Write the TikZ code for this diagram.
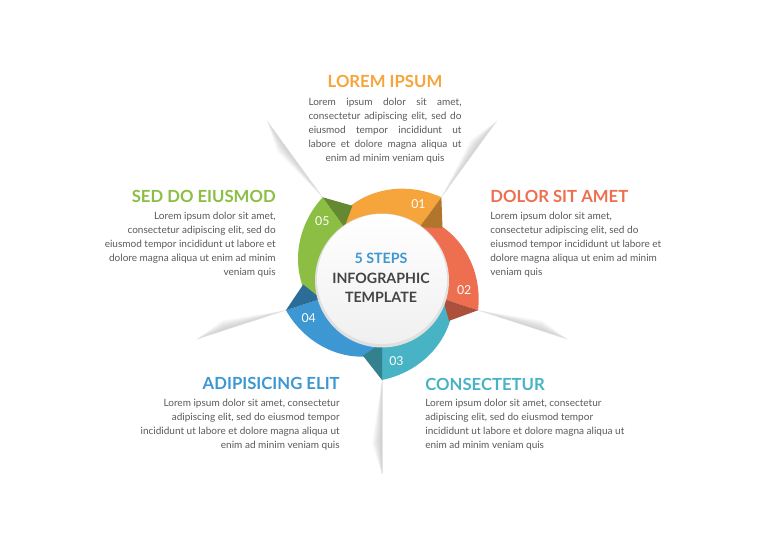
\documentclass[tikz,border=0pt]{standalone}
\usepackage{fontspec}
\setmainfont{Lato}
\definecolor{orng}{HTML}{F6A43C}
\definecolor{coral}{HTML}{EE6F50}
\definecolor{tealc}{HTML}{47B3C4}
\definecolor{bluec}{HTML}{3C97D3}
\definecolor{greenc}{HTML}{8BBE43}
\definecolor{txtgray}{HTML}{5A5A5A}
\definecolor{ctrgray}{HTML}{444444}
\newcommand{\jline}[1]{\makebox[30.6mm][s]{#1}}

\begin{document}
\begin{tikzpicture}[x=0.2mm, y=0.2mm,
    steptitle/.style={font=\fontsize{9.5}{10}\selectfont\bfseries, inner sep=0},
    steptext/.style={font=\fontsize{5.7}{7.95}\selectfont, text=txtgray, inner sep=0},
    stepnum/.style={font=\fontsize{7}{8}\selectfont, text=white, inner sep=0}]
    \useasboundingbox (-382,-259) rectangle (386,279);
    \foreach \a/\s in {126/1, 54/1, -18/1, -90/-1, 198/-1}{
      \foreach \k in {1,...,10}
        \fill[black, opacity=0.018] (\a:101) -- (\a+\s*\k*0.35:165) -- (\a:195) -- cycle;
      \draw[black!10, line width=0.3pt] (\a:101) -- (\a:195);
    }
    \foreach \e/\c in {54/orng, -18/coral, -90/tealc, 198/bluec, 126/greenc}{
      \pgfmathsetmacro{\st}{\e+72}
      \fill[\c] plot[domain=\st:\e, samples=40] (\x:{101-(\x-\e)*26/72}) -- (0,0) -- cycle;
    }
    \foreach \e/\c/\n in {54/orng/01, -18/coral/02, -90/tealc/03, 198/bluec/04, 126/greenc/05}{
      \fill[\c!72!black] (\e:101) -- (\e:64) -- (\e-14:79) -- cycle;
      \node[stepnum] (num\n) at (\e+10:83) {\n};
    }
    \fill[black!12] (0,-1.5) circle[radius=67];
    \shade[top color=white, bottom color=black!6] (0,0) circle[radius=65];
    \node[font=\fontsize{8.1}{11}\selectfont\bfseries, text=ctrgray, align=center, inner sep=0] (ctr) at (-1,1)
      {{\color{bluec}5 STEPS}\\INFOGRAPHIC\\TEMPLATE};

    \node[steptitle, text=orng] (t1) at (3,198) {LOREM IPSUM};
    \node[steptext, align=center] (b1) at (3,148)
      {\jline{Lorem ipsum dolor sit amet,}\\\jline{consectetur adipiscing elit, sed do}\\
       \jline{eiusmod tempor incididunt ut}\\\jline{labore et dolore magna aliqua ut}\\
       enim ad minim veniam quis};
    \node[steptitle, text=coral, anchor=west] (t2) at (108,83) {DOLOR SIT AMET};
    \node[steptext, align=left, anchor=west] (b2) at (108,34)
      {Lorem ipsum dolor sit amet,\\consectetur adipiscing elit, sed do\\
       eiusmod tempor incididunt ut labore et\\dolore magna aliqua ut enim ad minim\\veniam quis};
    \node[steptitle, text=tealc, anchor=west] (t3) at (43,-105) {CONSECTETUR};
    \node[steptext, align=left, anchor=west] (b3) at (43,-145.5)
      {Lorem ipsum dolor sit amet, consectetur\\adipiscing elit, sed do eiusmod tempor\\
       incididunt ut labore et dolore magna aliqua ut\\enim ad minim veniam quis};
    \node[steptitle, text=bluec, anchor=east] (t4) at (-42,-104) {ADIPISICING ELIT};
    \node[steptext, align=right, anchor=east] (b4) at (-42,-145.5)
      {Lorem ipsum dolor sit amet, consectetur\\adipiscing elit, sed do eiusmod tempor\\
       incididunt ut labore et dolore magna aliqua ut\\enim ad minim veniam quis};
    \node[steptitle, text=greenc, anchor=east] (t5) at (-106,83) {SED DO EIUSMOD};
    \node[steptext, align=right, anchor=east] (b5) at (-106,34)
      {Lorem ipsum dolor sit amet,\\consectetur adipiscing elit, sed do\\
       eiusmod tempor incididunt ut labore et\\dolore magna aliqua ut enim ad minim\\veniam quis};
\end{tikzpicture}
\end{document}
